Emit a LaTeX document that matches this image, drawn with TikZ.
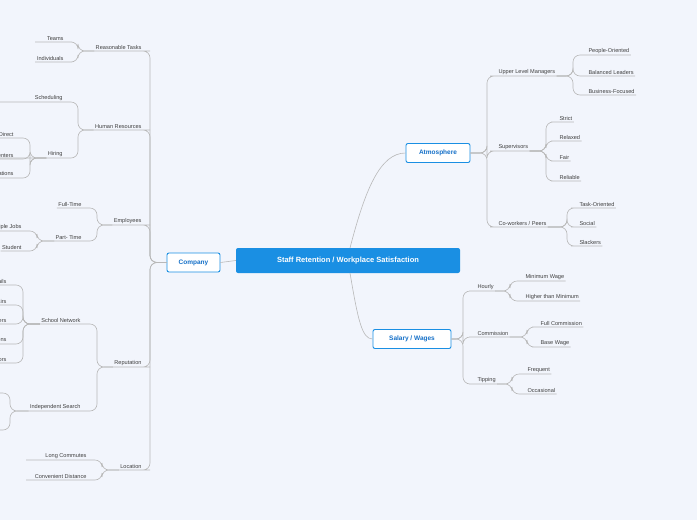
\documentclass[tikz,border=0pt]{standalone}
\usepackage{fontspec}
\setmainfont{Liberation Sans}
\begin{document}
\begin{tikzpicture}[x=1pt,y=-1pt,
  lbl/.style={font=\fontsize{5.6}{6}\selectfont, text=black!75, inner sep=1.5pt, outer sep=0pt},
  conn/.style={draw=black!28, line width=0.6pt, rounded corners=7pt},
  topic/.style={draw=mmblue, line width=0.9pt, fill=white, rounded corners=2pt, text=mmtext, font=\fontsize{6.5}{7}\selectfont\bfseries, minimum height=19pt, inner xsep=6pt}]
\definecolor{bg}{HTML}{F2F5FC}
\definecolor{mmblue}{HTML}{1A8FE3}
\definecolor{mmtext}{HTML}{1570C8}
\fill[bg] (0,0) rectangle (697,520);
\useasboundingbox (0,0) rectangle (697,520);
\clip (0,0) rectangle (697,520);
% central
\node[fill=mmblue, text=white, font=\fontsize{7.5}{8}\selectfont\bfseries, minimum width=224pt, minimum height=25pt, rounded corners=2pt] (root) at (348,260.5) {Staff Retention / Workplace Satisfaction};
\node[topic, minimum width=64pt] (atm) at (438,153) {Atmosphere};
\node[topic, minimum width=78pt] (sal) at (412,339) {Salary / Wages};
\node[topic, minimum width=53pt] (com) at (193.5,262.5) {Company};
\draw[conn] (350,248) .. controls (365,190) and (380,153) .. (atm.west);
\draw[conn] (350,273) .. controls (358,320) and (362,339) .. (sal.west);
\draw[conn] (root.west) -- (com.east);
% Atmosphere children
\foreach \n/\y/\t in {ulm/76/Upper Level Managers, sup/151/Supervisors, cow/227/{Co-workers / Peers}}{
  \node[lbl,anchor=south west] (\n) at (497,\y) {\t};
  \draw[conn] (atm.east) -- (487,153) |- (\n.south west) -- (\n.south east);}
\foreach \n/\y/\t in {po/55/People-Oriented, bl/76/Balanced Leaders, bf/95/Business-Focused}{
  \node[lbl,anchor=south west] (\n) at (587,\y) {\t};
  \draw[conn] (ulm.south east) -- (573,76) |- (\n.south west) -- (\n.south east);}
\foreach \n/\y/\t in {st/122/Strict, rx/141/Relaxed, fa/161/Fair, re/181/Reliable}{
  \node[lbl,anchor=south west] (\n) at (558,\y) {\t};
  \draw[conn] (sup.south east) -- (546,151) |- (\n.south west) -- (\n.south east);}
\foreach \n/\y/\t in {to/208/Task-Oriented, so/227/Social, sl/246/Slackers}{
  \node[lbl,anchor=south west] (\n) at (578,\y) {\t};
  \draw[conn] (cow.south east) -- (567,227) |- (\n.south west) -- (\n.south east);}
% Salary children
\foreach \n/\y/\t in {hr/291/Hourly, cm/337/Commission, tp/384/Tipping}{
  \node[lbl,anchor=south west] (\n) at (476,\y) {\t};
  \draw[conn] (sal.east) -- (463,339) |- (\n.south west) -- (\n.south east);}
\foreach \n/\y/\t in {mw/281/Minimum Wage, hm/301/Higher than Minimum}{
  \node[lbl,anchor=south west] (\n) at (524,\y) {\t};
  \draw[conn] (hr.south east) -- (510,291) |- (\n.south west) -- (\n.south east);}
\foreach \n/\y/\t in {fc/327/Full Commission, bw/347/Base Wage}{
  \node[lbl,anchor=south west] (\n) at (539,\y) {\t};
  \draw[conn] (cm.south east) -- (527,337) |- (\n.south west) -- (\n.south east);}
\foreach \n/\y/\t in {fq/374/Frequent, oc/394/Occasional}{
  \node[lbl,anchor=south west] (\n) at (526,\y) {\t};
  \draw[conn] (tp.south east) -- (512,384) |- (\n.south west) -- (\n.south east);}
% Company children (left)
\foreach \n/\y/\t in {rt/51/Reasonable Tasks, hu/130/Human Resources, em/225/Employees, rp/367/Reputation, lo/470/Location}{
  \node[lbl,anchor=south east] (\n) at (143,\y) {\t};
  \draw[conn] (com.west) -- (150,262.5) |- (\n.south east) -- (\n.south west);}
\foreach \n/\y/\t in {te/42/Teams, in/62/Individuals}{
  \node[lbl,anchor=south east] (\n) at (65,\y) {\t};
  \draw[conn] (rt.south west) -- (78,51) |- (\n.south east) -- ++(-30,0);}
\foreach \n/\y/\t in {sc/102/Scheduling, hi/158/Hiring}{
  \node[lbl,anchor=south east] (\n) at (64,\y) {\t};
  \draw[conn] (hu.south west) -- (78,130) |- (\n.south east) -- ++(-70,0);}
\foreach \n/\y/\t in {di/138/Direct, jc/159/Job Centers, ap/178/Applications}{
  \node[lbl,anchor=south east] (\n) at (15,\y) {\t};
  \draw[conn] (hi.south west) -- (30,158) |- (\n.south east) -- (\n.south west);}
\foreach \n/\y/\t in {ft/208/Full-Time, pt/241/Part- Time}{
  \node[lbl,anchor=south east] (\n) at (83,\y) {\t};
  \draw[conn] (em.south west) -- (97,225) |- (\n.south east) -- (\n.south west);}
\foreach \n/\y/\t in {mj/231/Multiple Jobs, stu/251/Student}{
  \node[lbl,anchor=south east] (\n) at (23,\y) {\t};
  \draw[conn] (pt.south west) -- (37,241) |- (\n.south east) -- (\n.south west);}
\foreach \n/\y/\t in {sn/324/School Network, is/411/Independent Search}{
  \node[lbl,anchor=south east] (\n) at (82,\y) {\t};
  \draw[conn] (rp.south west) -- (97,367) |- (\n.south east) -- (\n.south west);}
\foreach \n/\y/\t in {em1/285/Emails, jf/305/Job Fairs, tc/324/Teachers, or/344/Organizations, ad/363/Advisors}{
  \node[lbl,anchor=south east] (\n) at (8,\y) {\t};
  \draw[conn] (sn.south west) -- (23,324) |- (\n.south east) -- (\n.south west);}
\coordinate (isa) at (-2,393);
\coordinate (isb) at (-2,430);
\draw[conn] (is.south west) -- (10,411) |- (isa);
\draw[conn] (is.south west) -- (10,411) |- (isb);
\foreach \n/\y/\t in {lc/460/Long Commutes, cd/480/Convenient Distance}{
  \node[lbl,anchor=south east] (\n) at (88,\y) {\t};
  \draw[conn] (lo.south west) -- (102,470) |- (\n.south east) -- ++(-62,0);}
\end{tikzpicture}
\end{document}
